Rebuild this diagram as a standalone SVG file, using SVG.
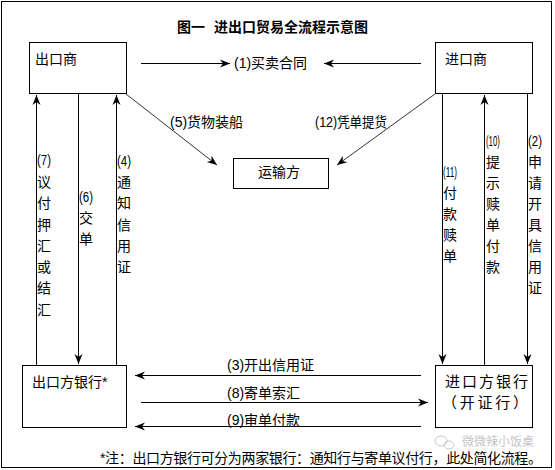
<svg xmlns="http://www.w3.org/2000/svg" width="555" height="470" viewBox="0 0 555 470">
<style>
text{font-family:'Liberation Sans','Noto Sans CJK SC',sans-serif;font-size:14px;fill:#000}
.box{fill:#fff;stroke:#000;stroke-width:1}
.ln{stroke:#000;stroke-width:1;fill:none;marker-end:url(#ah)}
.dg{stroke:#333;stroke-width:1;fill:none;marker-end:url(#ah)}
.title{font-weight:bold}
.wm{fill:#c4c4c4;font-size:12px}
.big{font-size:15px}
</style>
<defs>
<marker id="ah" viewBox="0 0 10 10" refX="10" refY="5" markerWidth="10" markerHeight="10" markerUnits="userSpaceOnUse" orient="auto">
<path d="M0,1 L10,5 L0,9 L3,5 Z" fill="#000"/>
</marker>
</defs>
<rect x="1.5" y="1.5" width="550" height="466" fill="#fff" stroke="#000"/>
<g id="title">
<text class="title" x="177" y="32">图一</text>
<text class="title" x="214" y="32">进出口贸易全流程示意图</text>
</g>
<g id="connectors">
<line class="ln" x1="141" y1="63.5" x2="230" y2="63.5"/>
<line class="ln" x1="421" y1="63.5" x2="324" y2="63.5"/>
<line class="dg" x1="126" y1="94" x2="217" y2="165"/>
<line class="dg" x1="435" y1="94" x2="337" y2="165"/>
<line class="ln" x1="36.5" y1="365" x2="36.5" y2="95"/>
<line class="ln" x1="78.5" y1="94" x2="78.5" y2="364"/>
<line class="ln" x1="116.5" y1="365" x2="116.5" y2="95"/>
<line class="ln" x1="442.5" y1="94" x2="442.5" y2="364"/>
<line class="ln" x1="484.5" y1="365" x2="484.5" y2="95"/>
<line class="ln" x1="527.5" y1="94" x2="527.5" y2="364"/>
<line class="ln" x1="421" y1="375.5" x2="135" y2="375.5"/>
<line class="ln" x1="141" y1="402.5" x2="428" y2="402.5"/>
<line class="ln" x1="421" y1="426.5" x2="135" y2="426.5"/>
</g>
<g id="labels">
<text x="234" y="68">(1)买卖合同</text>
<text x="170" y="127">(5)货物装船</text>
<text x="315" y="127" textLength="72" lengthAdjust="spacingAndGlyphs">(12)凭单提货</text>
<text x="227" y="370">(3)开出信用证</text>
<text x="227" y="398">(8)寄单索汇</text>
<text x="227" y="425">(9)审单付款</text>
<text x="37" y="165" textLength="14" lengthAdjust="spacingAndGlyphs">(7)</text>
<text x="37"><tspan x="37" y="187">议</tspan><tspan x="37" y="208">付</tspan><tspan x="37" y="230">押</tspan><tspan x="37" y="251">汇</tspan><tspan x="37" y="272">或</tspan><tspan x="37" y="293">结</tspan><tspan x="37" y="315">汇</tspan></text>
<text x="79" y="202" textLength="14" lengthAdjust="spacingAndGlyphs">(6)</text>
<text x="79"><tspan x="79" y="223">交</tspan><tspan x="79" y="244">单</tspan></text>
<text x="117" y="166" textLength="14" lengthAdjust="spacingAndGlyphs">(4)</text>
<text x="117"><tspan x="117" y="187">通</tspan><tspan x="117" y="208">知</tspan><tspan x="117" y="230">信</tspan><tspan x="117" y="251">用</tspan><tspan x="117" y="272">证</tspan></text>
<text x="443" y="177" textLength="14" lengthAdjust="spacingAndGlyphs">(11)</text>
<text x="443"><tspan x="443" y="198">付</tspan><tspan x="443" y="219">款</tspan><tspan x="443" y="240">赎</tspan><tspan x="443" y="261">单</tspan></text>
<text x="486" y="146" textLength="14" lengthAdjust="spacingAndGlyphs">(10)</text>
<text x="486"><tspan x="486" y="167">提</tspan><tspan x="486" y="188">示</tspan><tspan x="486" y="209">赎</tspan><tspan x="486" y="230">单</tspan><tspan x="486" y="251">付</tspan><tspan x="486" y="272">款</tspan></text>
<text x="528" y="146" textLength="14" lengthAdjust="spacingAndGlyphs">(2)</text>
<text x="528"><tspan x="528" y="167">申</tspan><tspan x="528" y="188">请</tspan><tspan x="528" y="209">开</tspan><tspan x="528" y="230">具</tspan><tspan x="528" y="251">信</tspan><tspan x="528" y="272">用</tspan><tspan x="528" y="293">证</tspan></text>
</g>
<g id="exporter">
<rect class="box" x="29.5" y="42.5" width="97" height="51"/>
<text x="35" y="64">出口商</text>
</g>
<g id="importer">
<rect class="box" x="435.5" y="42.5" width="97" height="51"/>
<text x="445" y="64">进口商</text>
</g>
<g id="carrier">
<rect class="box" x="233.5" y="158.5" width="95" height="30"/>
<text x="258" y="177">运输方</text>
</g>
<g id="exporter-bank">
<rect class="box" x="22.5" y="365.5" width="104" height="62"/>
<text x="32" y="387">出口方银行*</text>
</g>
<g id="importer-bank">
<rect class="box" x="435.5" y="365.5" width="97" height="62"/>
<text class="big" x="445" y="387" textLength="83" lengthAdjust="spacing">进口方银行</text>
<text class="big" x="442" y="408" textLength="86" lengthAdjust="spacing">（开证行）</text>
</g>
<g id="watermark">
<ellipse cx="441" cy="441" rx="6" ry="5" fill="none" stroke="#c8c8c8"/>
<ellipse cx="449" cy="445" rx="5" ry="4" fill="none" stroke="#c8c8c8"/>
<text class="wm" x="462" y="446">微微辣小饭桌</text>
</g>
<g id="note">
<text x="100" y="463" textLength="442" lengthAdjust="spacing">*注：出口方银行可分为两家银行：通知行与寄单议付行，此处简化流程。</text>
</g>
</svg>
